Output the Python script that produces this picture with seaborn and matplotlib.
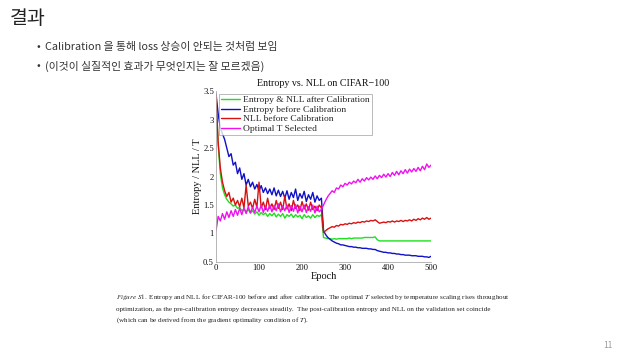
import numpy as np
import pandas as pd
import matplotlib
matplotlib.use("Agg")
import matplotlib.pyplot as plt
import seaborn as sns

# Epoch grid (every 5 epochs) and curves
epochs = list(range(0, 501, 5))

after_cal = [3.40, 2.55, 2.05, 1.80, 1.68, 1.60, 1.55, 1.52, 1.48, 1.50,
             1.44, 1.46, 1.40, 1.43, 1.38, 1.42, 1.36, 1.40, 1.34, 1.38,
             1.32, 1.37, 1.33, 1.36, 1.30, 1.35, 1.31, 1.36, 1.29, 1.34,
             1.30, 1.35, 1.27, 1.33, 1.30, 1.34, 1.28, 1.33, 1.29, 1.32,
             1.26, 1.33, 1.28, 1.31, 1.27, 1.33, 1.28, 1.32, 1.30, 1.33,
             0.93, 0.92, 0.91, 0.91, 0.90, 0.91, 0.90, 0.91, 0.91, 0.91,
             0.91, 0.91, 0.92, 0.91, 0.92, 0.92, 0.92, 0.92, 0.92, 0.93,
             0.93, 0.93, 0.93, 0.93, 0.94, 0.89, 0.87, 0.87, 0.87, 0.87,
             0.87, 0.87, 0.87, 0.87, 0.87, 0.87, 0.87, 0.87, 0.87, 0.87,
             0.87, 0.87, 0.87, 0.87, 0.87, 0.87, 0.87, 0.87, 0.87, 0.87,
             0.87]

entropy_before = [3.45, 3.10, 2.85, 2.75, 2.65, 2.50, 2.35, 2.40, 2.20, 2.25,
                  2.05, 2.15, 1.95, 2.05, 1.85, 1.95, 1.82, 1.90, 1.78, 1.86,
                  1.75, 1.84, 1.72, 1.80, 1.70, 1.78, 1.68, 1.80, 1.66, 1.76,
                  1.65, 1.74, 1.62, 1.75, 1.60, 1.72, 1.63, 1.78, 1.58, 1.70,
                  1.62, 1.74, 1.56, 1.68, 1.60, 1.72, 1.55, 1.66, 1.58, 1.62,
                  1.05, 0.98, 0.93, 0.90, 0.87, 0.85, 0.83, 0.82, 0.80, 0.80,
                  0.79, 0.78, 0.77, 0.77, 0.76, 0.76, 0.75, 0.75, 0.74, 0.74,
                  0.74, 0.73, 0.73, 0.72, 0.72, 0.70, 0.69, 0.68, 0.67, 0.67,
                  0.66, 0.66, 0.65, 0.65, 0.64, 0.64, 0.63, 0.63, 0.62, 0.62,
                  0.62, 0.61, 0.61, 0.61, 0.60, 0.60, 0.60, 0.59, 0.59, 0.58,
                  0.60]

nll_before = [3.40, 2.60, 2.15, 1.90, 1.75, 1.65, 1.72, 1.55, 1.62, 1.50,
              1.58, 1.47, 1.62, 1.45, 1.85, 1.48, 1.55, 1.44, 1.60, 1.46,
              1.90, 1.45, 1.55, 1.42, 1.62, 1.44, 1.52, 1.42, 1.58, 1.44,
              1.55, 1.42, 1.65, 1.43, 1.52, 1.40, 1.58, 1.44, 1.50, 1.40,
              1.56, 1.43, 1.52, 1.41, 1.55, 1.42, 1.48, 1.40, 1.50, 1.45,
              1.02, 1.05, 1.08, 1.10, 1.12, 1.11, 1.14, 1.13, 1.16, 1.15,
              1.17, 1.16, 1.18, 1.17, 1.19, 1.18, 1.20, 1.19, 1.21, 1.20,
              1.22, 1.21, 1.23, 1.22, 1.24, 1.21, 1.18, 1.19, 1.20, 1.19,
              1.21, 1.20, 1.22, 1.20, 1.22, 1.21, 1.23, 1.21, 1.23, 1.22,
              1.24, 1.22, 1.25, 1.23, 1.26, 1.24, 1.27, 1.25, 1.28, 1.25,
              1.27]

optimal_t = [1.05, 1.30, 1.22, 1.35, 1.25, 1.38, 1.28, 1.40, 1.30, 1.42,
             1.32, 1.44, 1.33, 1.45, 1.35, 1.47, 1.36, 1.46, 1.37, 1.48,
             1.38, 1.50, 1.37, 1.48, 1.39, 1.50, 1.38, 1.49, 1.40, 1.52,
             1.38, 1.48, 1.40, 1.50, 1.37, 1.49, 1.39, 1.51, 1.36, 1.48,
             1.38, 1.50, 1.37, 1.47, 1.39, 1.50, 1.36, 1.48, 1.38, 1.42,
             1.50, 1.58, 1.65, 1.70, 1.75, 1.72, 1.80, 1.78, 1.85, 1.82,
             1.88, 1.85, 1.90, 1.87, 1.92, 1.89, 1.95, 1.90, 1.96, 1.92,
             1.98, 1.94, 1.99, 1.95, 2.01, 1.96, 2.02, 1.98, 2.04, 1.99,
             2.05, 2.00, 2.07, 2.02, 2.09, 2.03, 2.10, 2.05, 2.12, 2.06,
             2.13, 2.08, 2.14, 2.09, 2.16, 2.10, 2.18, 2.12, 2.22, 2.16,
             2.20]

series_names = ["Entropy & NLL after Calibration", "Entropy before Calibration",
                "NLL before Calibration", "Optimal T Selected"]
series_colors = ["#1ee01e", "#1010c8", "#d81010", "#f010f0"]

x_ticks = [0, 100, 200, 300, 400, 500]
y_ticks = [0.5, 1, 1.5, 2, 2.5, 3, 3.5]
y_tick_labels = ["0.5", "1", "1.5", "2", "2.5", "3", "3.5"]

frames = []
for name, vals in zip(series_names, [after_cal, entropy_before, nll_before, optimal_t]):
    frames.append(pd.DataFrame({"Epoch": epochs, "value": vals, "series": name}))
df = pd.concat(frames, ignore_index=True)

sns.set_theme(style="white")
plt.rcParams["font.family"] = ["Noto Sans CJK KR", "DejaVu Sans"]
plt.rcParams["mathtext.fontset"] = "stix"
serif = ["Liberation Serif", "DejaVu Serif"]

fig = plt.figure(figsize=(6.38, 3.59), dpi=100)
fig.patch.set_facecolor("white")

# slide text
fig.text(0.016, 0.948, "결과", fontsize=14, va="center", ha="left", color="#222222")
fig.text(0.057, 0.870, "•", fontsize=7.8, va="center", ha="left", color="#333333")
fig.text(0.071, 0.870, "Calibration 을 통해 loss 상승이 안되는 것처럼 보임",
         fontsize=7.8, va="center", ha="left", color="#333333")
fig.text(0.057, 0.815, "•", fontsize=7.8, va="center", ha="left", color="#333333")
fig.text(0.071, 0.815, "(이것이 실질적인 효과가 무엇인지는 잘 모르겠음)",
         fontsize=7.8, va="center", ha="left", color="#333333")
fig.text(0.945, 0.038, "11", fontsize=6, va="center", ha="left", color="#999999")

ax = fig.add_axes([0.3386, 0.2702, 0.337, 0.4763])
sns.lineplot(data=df, x="Epoch", y="value", hue="series", hue_order=series_names,
             palette=series_colors, estimator=None, linewidth=1.0, ax=ax)

ax.set_xlim(0, 500)
ax.set_ylim(0.5, 3.5)
ax.set_xticks(x_ticks)
ax.set_yticks(y_ticks)
ax.set_yticklabels(y_tick_labels)
for lab in ax.get_xticklabels() + ax.get_yticklabels():
    lab.set_fontfamily(serif)
    lab.set_fontsize(6.2)
ax.tick_params(direction="in", length=2, width=0.5, colors="#555555", pad=1.5,
               labelcolor="#111111")
ax.set_xlabel("Epoch", family=serif, fontsize=7.5, labelpad=0, color="#111111")
ax.set_ylabel("Entropy / NLL / T", family=serif, fontsize=7.5, labelpad=1, color="#111111")
ax.set_title("Entropy vs. NLL on CIFAR\u2212100", family=serif, fontsize=7.2, pad=3.5,
             color="#111111")
for side in ["top", "right"]:
    ax.spines[side].set_visible(False)
for side in ["left", "bottom"]:
    ax.spines[side].set_color("#aaaaaa")
    ax.spines[side].set_linewidth(0.6)

leg = ax.legend(loc="upper left", prop={"family": serif, "size": 6.8}, frameon=True,
                fancybox=False, borderpad=0.2, labelspacing=0.1, handlelength=2.0,
                handletextpad=0.4, borderaxespad=0.3)
leg.get_frame().set_edgecolor("#888888")
leg.get_frame().set_linewidth(0.5)

# caption under the figure
cap1 = ("$\\bf{\\it{Figure\\ S1.}}$ Entropy and NLL for CIFAR-100 before and after calibration. "
        "The optimal $T$ selected by temperature scaling rises throughout")
cap2 = ("optimization, as the pre-calibration entropy decreases steadily.  The post-calibration "
        "entropy and NLL on the validation set coincide")
cap3 = "(which can be derived from the gradient optimality condition of $T$)."
for y, t in zip([0.172, 0.139, 0.108], [cap1, cap2, cap3]):
    fig.text(0.182, y, t, family=serif, fontsize=5.1, va="center", ha="left", color="#222222")

fig.savefig("out.png", dpi=100, facecolor="white")
